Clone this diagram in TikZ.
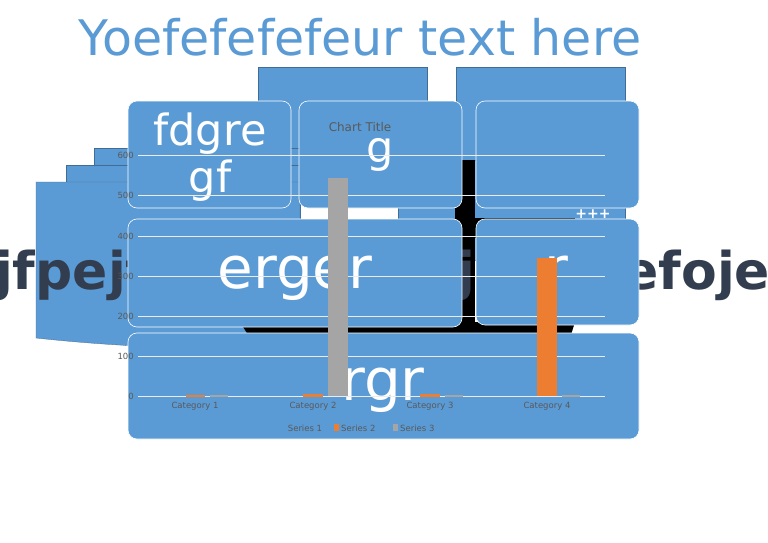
\documentclass[tikz,border=0pt]{standalone}
\usepackage{fontspec}
\setmainfont{DejaVu Sans}
\begin{document}
\begin{tikzpicture}[x=1pt,y=-1pt]
\definecolor{bl}{RGB}{91,155,213}
\definecolor{dk}{RGB}{50,62,80}
\definecolor{gr}{RGB}{165,165,165}
\definecolor{og}{RGB}{237,125,49}
\definecolor{lab}{RGB}{89,89,89}
\tikzset{box/.style={fill=bl,draw=white,line width=0.6pt,rounded corners=9pt},
 back/.style={fill=bl,draw=bl!70!black,line width=0.3pt},
 wt/.style={text=white,inner sep=0pt},
 grid/.style={draw=white!85!gray,line width=0.6pt},
 axl/.style={text=lab,font=\fontsize{8.5}{10}\selectfont,inner sep=0pt}}
\useasboundingbox (0,0) rectangle (768,543);
\fill[white] (0,0) rectangle (768,543);
\node (title) at (360,37) {\fontsize{49}{54}\selectfont\color{bl}Yoefefefefeur text here};
% back shapes
\path[back] (258,67) rectangle (427,160);
\path[back] (456,67) rectangle (625,160);
\path[back] (94,148) rectangle (300,300);
\path[back] (66,165) rectangle (300,320);
\path[back] (36,182) -- (300,182) -- (300,345) .. controls (200,352) and (100,345) .. (36,338) -- cycle;
\path[back] (398,160) rectangle (625,260);
% black shape
\fill[black] (455,160) rectangle (475,395);
\fill[black] (465,218) rectangle (575,238);
\fill[black,rounded corners=4pt] (240,322) -- (575,322) -- (570,338) -- (250,338) -- cycle;
\node[text=white,font=\bfseries\fontsize{14}{14}\selectfont] (plus) at (593,214) {+++};
% bold texts
\node[text=dk,font=\bfseries\fontsize{52}{56}\selectfont,anchor=east] (lt) at (152,275) {jfpejf};
\node[text=dk,font=\bfseries\fontsize{52}{56}\selectfont] (jt) at (466,275) {j};
\node[text=dk,font=\bfseries\fontsize{52}{56}\selectfont,anchor=west] (rt) at (620,275) {efojet};
% boxes
\draw[box] (128,101) rectangle (291,208);
\draw[box] (299,101) rectangle (462,208);
\draw[box] (476,101) rectangle (639,208);
\draw[box] (128,219) rectangle (462,327);
\draw[box] (476,219) rectangle (639,325);
\draw[box] (128,333) rectangle (639,439);
\node[wt,font=\fontsize{43}{47}\selectfont,align=center] (a) at (210,157) {fdgre\\gf};
\node[wt,font=\fontsize{43}{47}\selectfont] (b) at (380,155) {g};
\node[wt,font=\fontsize{58}{60}\selectfont] (d) at (295,278) {erger};
\node[wt,font=\fontsize{58}{60}\selectfont] (e) at (556,272) {r};
\node[wt,font=\fontsize{58}{60}\selectfont] (f) at (383,390) {rgr};
% chart
\node[text=lab,font=\fontsize{12}{14}\selectfont] (ct) at (360,127) {Chart Title};
\foreach \v/\y in {600/155,500/195,400/236,300/276,200/316,100/356,0/396}{
  \draw[grid] (138,\y) -- (605,\y);
  \node[axl,anchor=east] at (134,\y) {\v};
}
\fill[gr] (328,178) rectangle (348,396);
\fill[og] (537,258) rectangle (557,396);
\fill[og] (186,395) rectangle (205,396.5);
\fill[og] (303,394) rectangle (323,396.5);
\fill[og] (420,394) rectangle (440,396.5);
\fill[gr] (210,395) rectangle (228,396.5);
\fill[gr] (445,394.5) rectangle (463,396.5);
\fill[gr] (562,394.5) rectangle (580,396.5);
\foreach \x/\c in {195/1,313/2,430/3,547/4}{\node[axl] at (\x,406) {Category \c};}
\node[axl] (l1) at (305,428) {Series 1};
\fill[og] (334,424) rectangle (339,431);
\node[axl,anchor=west] (l2) at (341,428) {Series 2};
\fill[gr] (393,424) rectangle (398,431);
\node[axl,anchor=west] (l3) at (400,428) {Series 3};
\end{tikzpicture}
\end{document}
